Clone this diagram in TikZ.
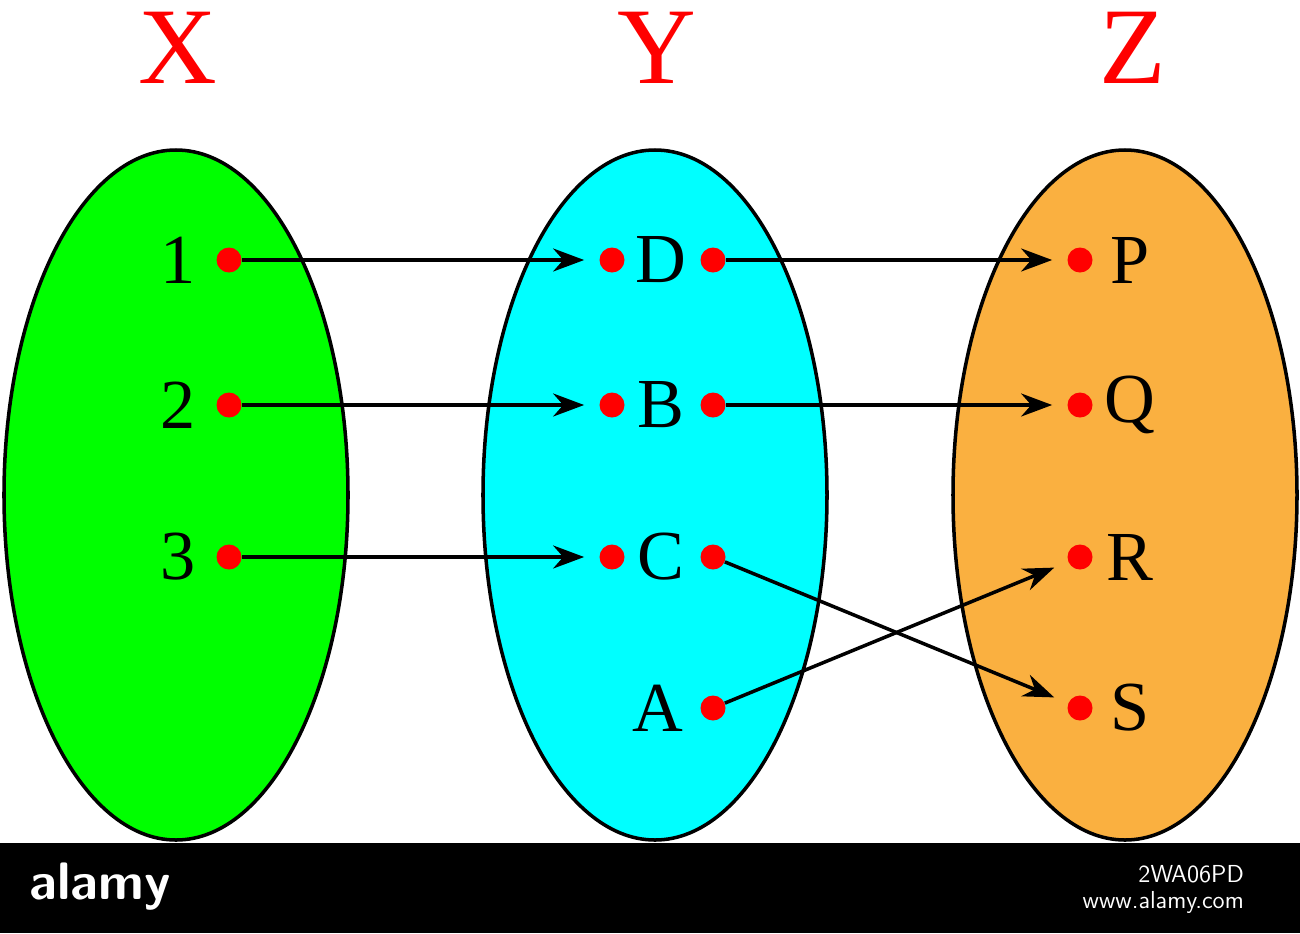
\documentclass[tikz,border=0pt]{standalone}
\usepackage{fontspec}
\setmainfont{Liberation Serif}
\usetikzlibrary{arrows.meta,shapes.geometric}
\begin{document}
\begin{tikzpicture}[x=0.2mm,y=-0.2mm]
\tikzset{set/.style={draw,line width=2pt,ellipse,minimum width=6.88cm,minimum height=13.8cm},
title/.style={text=red,font=\fontsize{62}{62}\selectfont},
lab/.style={font=\fontsize{40}{40}\selectfont},
pt/.style={circle,fill=red,inner sep=0pt,minimum size=0.5cm},
map/.style={line width=2pt,-{Stealth[length=0.62cm,width=0.46cm]},shorten >=0.3cm}}
\useasboundingbox (0,0) rectangle (1300,933);
% sets
\node[set,fill={rgb,255:red,0;green,255;blue,0}] at (176,495) (SX) {};
\node[set,fill={rgb,255:red,0;green,255;blue,255}] at (655,495) (SY) {};
\node[set,fill={rgb,255:red,250;green,176;blue,64}] at (1125,495) (SZ) {};
\node[title] at (178,48) (TX) {X};
\node[title] at (657,48) (TY) {Y};
\node[title] at (1133,48) (TZ) {Z};
% elements of X
\foreach \n/\y in {1/260,2/405,3/557}{
\node[lab] at (178,\y) (x\n) {\n};
\node[pt] at (229,\y) (px\n) {};}
% elements of Y
\foreach \n/\y in {D/260,B/405,C/557}{
\node[lab] at (661,\y) (y\n) {\n};
\node[pt] at (612,\y) (iy\n) {};
\node[pt] at (713,\y) (oy\n) {};}
\node[lab] at (658,708) (yA) {A};
\node[pt] at (713,708) (oyA) {};
% elements of Z
\foreach \n/\y in {P/260,Q/405,R/557,S/708}{
\node[lab] at (1130,\y) (z\n) {\n};
\node[pt] at (1080,\y) (pz\n) {};}
% mappings
\draw[map] (px1) -- (iyD);
\draw[map] (px2) -- (iyB);
\draw[map] (px3) -- (iyC);
\draw[map] (oyD) -- (pzP);
\draw[map] (oyB) -- (pzQ);
\draw[map] (oyC) -- (pzS);
\draw[map] (oyA) -- (pzR);
% bottom bar
\fill[black] (0,843) rectangle (1300,933);
\node[text=white,font=\sffamily\bfseries\fontsize{30}{30}\selectfont] at (100,887) (brand) {alamy};
\node[text=white,font=\sffamily\fontsize{14}{14}\selectfont,anchor=east] at (1250,874) (code) {2WA06PD};
\node[text=white,font=\sffamily\fontsize{14}{14}\selectfont,anchor=east] at (1250,902) (site) {www.alamy.com};
\end{tikzpicture}
\end{document}
